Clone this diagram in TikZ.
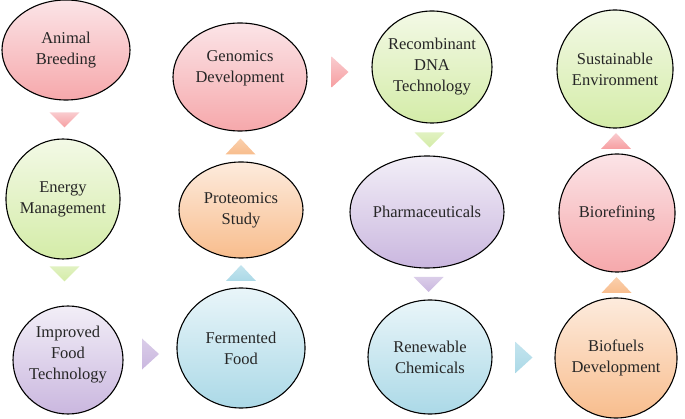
\documentclass[tikz,border=0pt]{standalone}
\usepackage{fontspec}
\setmainfont{Liberation Serif}
\usetikzlibrary{shapes.geometric,calc}
\definecolor{pkT}{HTML}{FBE4E7}\definecolor{pkB}{HTML}{F6A8AB}
\definecolor{grT}{HTML}{F3F9E6}\definecolor{grB}{HTML}{D4ECA8}
\definecolor{puT}{HTML}{F2EEF7}\definecolor{puB}{HTML}{CAB7DF}
\definecolor{orT}{HTML}{FDEBDD}\definecolor{orB}{HTML}{F8BD8D}
\definecolor{blT}{HTML}{E9F5F9}\definecolor{blB}{HTML}{ABD9E7}
\definecolor{txt}{HTML}{262626}
\tikzset{
  bub/.style={ellipse, draw=black, line width=1.1pt, align=center, inner sep=-6pt,
    font=\fontsize{16.5}{21}\selectfont, text=txt},
  pinkb/.style={bub, top color=pkT, bottom color=pkB},
  greenb/.style={bub, top color=grT, bottom color=grB},
  purpleb/.style={bub, top color=puT, bottom color=puB},
  orangeb/.style={bub, top color=orT, bottom color=orB},
  blueb/.style={bub, top color=blT, bottom color=blB},
  tpink/.style={top color=pkT!60!pkB, bottom color=pkB!90!red!60!pkB},
  tgreen/.style={top color=grT!40!grB, bottom color=grB},
  tpurple/.style={top color=puT!40!puB, bottom color=puB},
  torange/.style={top color=orT!40!orB, bottom color=orB},
  tblue/.style={top color=blT!40!blB, bottom color=blB},
}
\begin{document}
\begin{tikzpicture}[x=1pt,y=-1pt]
\useasboundingbox (0,0) rectangle (685,419);
% bubbles
\node[pinkb,   minimum width=128pt, minimum height=100pt] (ab)  at (66,50)   {Animal\\Breeding};
\node[greenb,  minimum width=114pt, minimum height=120pt] (em)  at (63,199)  {Energy\\Management};
\node[purpleb, minimum width=110pt, minimum height=108pt] (ift) at (68,360)  {Improved\\Food\\Technology\\[-6pt]\mbox{}};
\node[blueb,   minimum width=128pt, minimum height=120pt] (ff)  at (241,348) {Fermented\\Food};
\node[orangeb, minimum width=124pt, minimum height=96pt]  (ps)  at (241,210) {Proteomics\\Study};
\node[pinkb,   minimum width=134pt, minimum height=108pt] (gd)  at (240,77)  {Genomics\\Development\\\mbox{}};
\node[greenb,  minimum width=120pt, minimum height=112pt] (rdt) at (432,67)  {Recombinant\\DNA\\Technology};
\node[purpleb, minimum width=154pt, minimum height=112pt] (ph)  at (427,212) {Pharmaceuticals};
\node[blueb,   minimum width=124pt, minimum height=114pt] (rc)  at (430,357) {Renewable\\Chemicals};
\node[orangeb, minimum width=122pt, minimum height=120pt] (bd)  at (616,358) {Biofuels\\Development};
\node[pinkb,   minimum width=116pt, minimum height=118pt] (br)  at (617,213) {Biorefining};
\node[greenb,  minimum width=116pt, minimum height=118pt] (se)  at (615,69)  {Sustainable\\Environment};
% triangle connectors
\coordinate (t1)  at ($(ab.south)!0.5!(em.north)$);
\coordinate (t2)  at ($(em.south)!0.3!(ift.north)$);
\coordinate (t3)  at ($(ift.east)!0.5!(ff.west)$);
\coordinate (t4)  at ($(ff.north)!0.5!(ps.south)$);
\coordinate (t5)  at ($(ps.north)!0.5!(gd.south)$);
\coordinate (t6)  at ($(gd.east)!0.5!(rdt.west)$);
\coordinate (t7)  at ($(rdt.south)!0.5!(ph.north)$);
\coordinate (t8)  at ($(ph.south)!0.5!(rc.north)$);
\coordinate (t9)  at ($(rc.east)!0.5!(bd.west)$);
\coordinate (t10) at ($(bd.north)!0.5!(br.south)$);
\coordinate (t11) at ($(br.north)!0.5!(se.south)$);
% down
\shade[tpink]   (t1) ++(-15,-7) -- ++(30,0) -- ++(-15,15) -- cycle;
\shade[tgreen]  (t2) ++(-15,-7) -- ++(30,0) -- ++(-15,15) -- cycle;
\shade[tgreen]  (t7) ++(-15,-7) -- ++(30,0) -- ++(-15,15) -- cycle;
\shade[tpurple] (t8) ++(-15,-7) -- ++(30,0) -- ++(-15,15) -- cycle;
% up
\shade[tblue]   (t4)  ++(-15,8) -- ++(30,0) -- ++(-15,-16) -- cycle;
\shade[torange] (t5)  ++(-15,8) -- ++(30,0) -- ++(-15,-16) -- cycle;
\shade[torange] (t10) ++(-15,8) -- ++(30,0) -- ++(-15,-16) -- cycle;
\shade[tpink]   (t11) ++(-15,8) -- ++(30,0) -- ++(-15,-16) -- cycle;
% right
\shade[tpurple] (t3) ++(-8,-15.5) -- ++(0,31) -- ++(17,-15.5) -- cycle;
\shade[tpink]   (t6) ++(-8,-15.5) -- ++(0,31) -- ++(17,-15.5) -- cycle;
\shade[tblue]   (t9) ++(-8,-15.5) -- ++(0,31) -- ++(17,-15.5) -- cycle;
\end{tikzpicture}
\end{document}
